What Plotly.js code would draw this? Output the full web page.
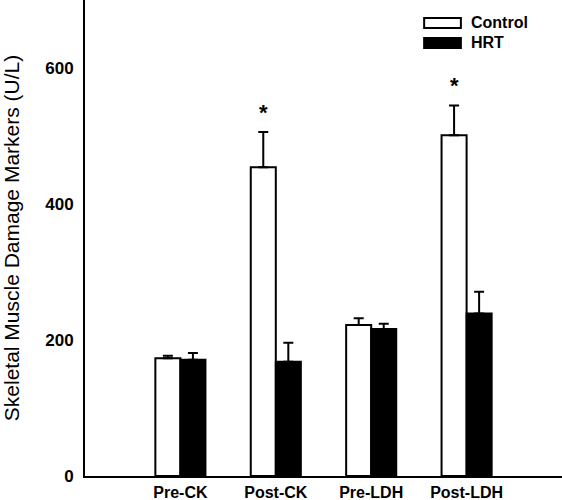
<!DOCTYPE html>
<html>
<head>
<meta charset="utf-8">
<script src="https://cdn.plot.ly/plotly-3.0.1.min.js"></script>
<style>
  html, body { margin: 0; padding: 0; background: #fff; }
  #chart { width: 562px; height: 500px; }
</style>
</head>
<body>
<div id="chart"></div>
<script>
const CATS = ['Pre-CK', 'Post-CK', 'Pre-LDH', 'Post-LDH'];
const CONTROL = [173, 454, 222, 501];
const CONTROL_ERR = [4, 52, 10, 44];
const HRT = [171, 168, 216, 239];
const HRT_ERR = [10, 28, 8, 32];
const SIG = [false, true, false, true];
const YTICKS = [0, 200, 400, 600];

const FONT = 'Arial, "Liberation Sans", sans-serif';

const barStyle = (fill) => ({
  color: fill,
  line: { color: '#000', width: 2 },
});
const errStyle = (arr) => ({
  type: 'data', symmetric: false, array: arr, arrayminus: arr.map(() => 0),
  color: '#000', thickness: 2, width: 5,
});

const traces = [
  {
    type: 'bar', name: 'Control', x: CATS, y: CONTROL,
    marker: barStyle('#fff'), error_y: errStyle(CONTROL_ERR),
    hoverinfo: 'x+y+name',
  },
  {
    type: 'bar', name: 'HRT', x: CATS, y: HRT,
    marker: barStyle('#000'), error_y: errStyle(HRT_ERR),
    hoverinfo: 'x+y+name',
  },
];

// asterisks above the significant Control bars
const stars = [];
SIG.forEach((s, i) => {
  if (!s) return;
  stars.push({
    x: i - 0.13, y: CONTROL[i] + CONTROL_ERR[i], xref: 'x', yref: 'y',
    text: '<b>*</b>', showarrow: false, yanchor: 'bottom', yshift: 5,
    font: { family: FONT, size: 22, color: '#000' },
  });
});

// hand-drawn legend (wide swatches like the original)
const legendShapes = [
  { type: 'rect', xref: 'paper', yref: 'paper', x0: 0.711, x1: 0.788, y0: 0.941, y1: 0.962,
    fillcolor: '#fff', line: { color: '#000', width: 2 } },
  { type: 'rect', xref: 'paper', yref: 'paper', x0: 0.711, x1: 0.788, y0: 0.899, y1: 0.920,
    fillcolor: '#000', line: { color: '#000', width: 2 } },
];
const legendText = [
  { xref: 'paper', yref: 'paper', x: 0.805, y: 0.952, text: '<b>Control</b>', showarrow: false,
    xanchor: 'left', yanchor: 'middle', font: { family: FONT, size: 16, color: '#000' } },
  { xref: 'paper', yref: 'paper', x: 0.805, y: 0.910, text: '<b>HRT</b>', showarrow: false,
    xanchor: 'left', yanchor: 'middle', font: { family: FONT, size: 16, color: '#000' } },
];

const layout = {
  width: 562, height: 500,
  margin: { l: 85, r: 0, t: 0, b: 24 },
  paper_bgcolor: '#fff', plot_bgcolor: '#fff',
  showlegend: false,
  barmode: 'group', bargap: 0.475, bargroupgap: 0,
  font: { family: FONT, color: '#000' },
  xaxis: {
    type: 'category', range: [-1, 4],
    showline: true, linecolor: '#000', linewidth: 2,
    showgrid: false, zeroline: false, ticks: '',
    tickfont: { family: FONT, size: 16, color: '#000', weight: 'bold' },
    ticklabelstandoff: 1,
  },
  yaxis: {
    range: [0, 700], tickvals: YTICKS,
    showline: true, linecolor: '#000', linewidth: 2,
    showgrid: false, zeroline: false, ticks: '',
    tickfont: { family: FONT, size: 17, color: '#000', weight: 'bold' },
    ticklabelstandoff: 6,
    title: { text: 'Skeletal Muscle Damage Markers (U/L)', standoff: 22,
      font: { family: FONT, size: 21, color: '#000' } },
  },
  shapes: legendShapes,
  annotations: stars.concat(legendText),
};

Plotly.newPlot('chart', traces, layout, { displayModeBar: false, staticPlot: true });
</script>
</body>
</html>
